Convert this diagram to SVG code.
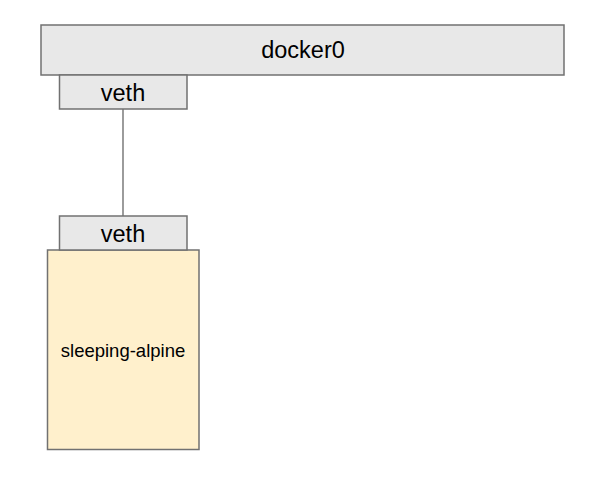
<svg xmlns="http://www.w3.org/2000/svg" width="592" height="483" viewBox="0 0 592 483">
<style>
.box{fill:#e8e8e8;stroke:#717171;stroke-width:1.5}
.ctr{fill:#fff0cc;stroke:#717171;stroke-width:1.5}
.t{font-family:"Liberation Sans",Arial,sans-serif;fill:#000;text-anchor:middle}
.edge{stroke:#595959;stroke-width:1.2;fill:none}
</style>
<rect width="592" height="483" fill="#fff"/>
<g id="connectors">
<line class="edge" x1="123" y1="109" x2="123" y2="216"/>
</g>
<g id="docker0">
<rect class="box" x="41" y="25" width="523" height="50"/>
<text class="t" x="303" y="57.5" font-size="23.5">docker0</text>
</g>
<g id="veth-top">
<rect class="box" x="59.5" y="75" width="127.5" height="34"/>
<text class="t" x="123" y="100.5" font-size="23.5">veth</text>
</g>
<g id="sleeping-alpine">
<rect class="ctr" x="47.5" y="250" width="151.5" height="199.5"/>
<text class="t" x="123" y="357" font-size="18.5">sleeping-alpine</text>
</g>
<g id="veth-bottom">
<rect class="box" x="59.5" y="216" width="127.5" height="34"/>
<text class="t" x="123" y="241.5" font-size="23.5">veth</text>
</g>
</svg>
